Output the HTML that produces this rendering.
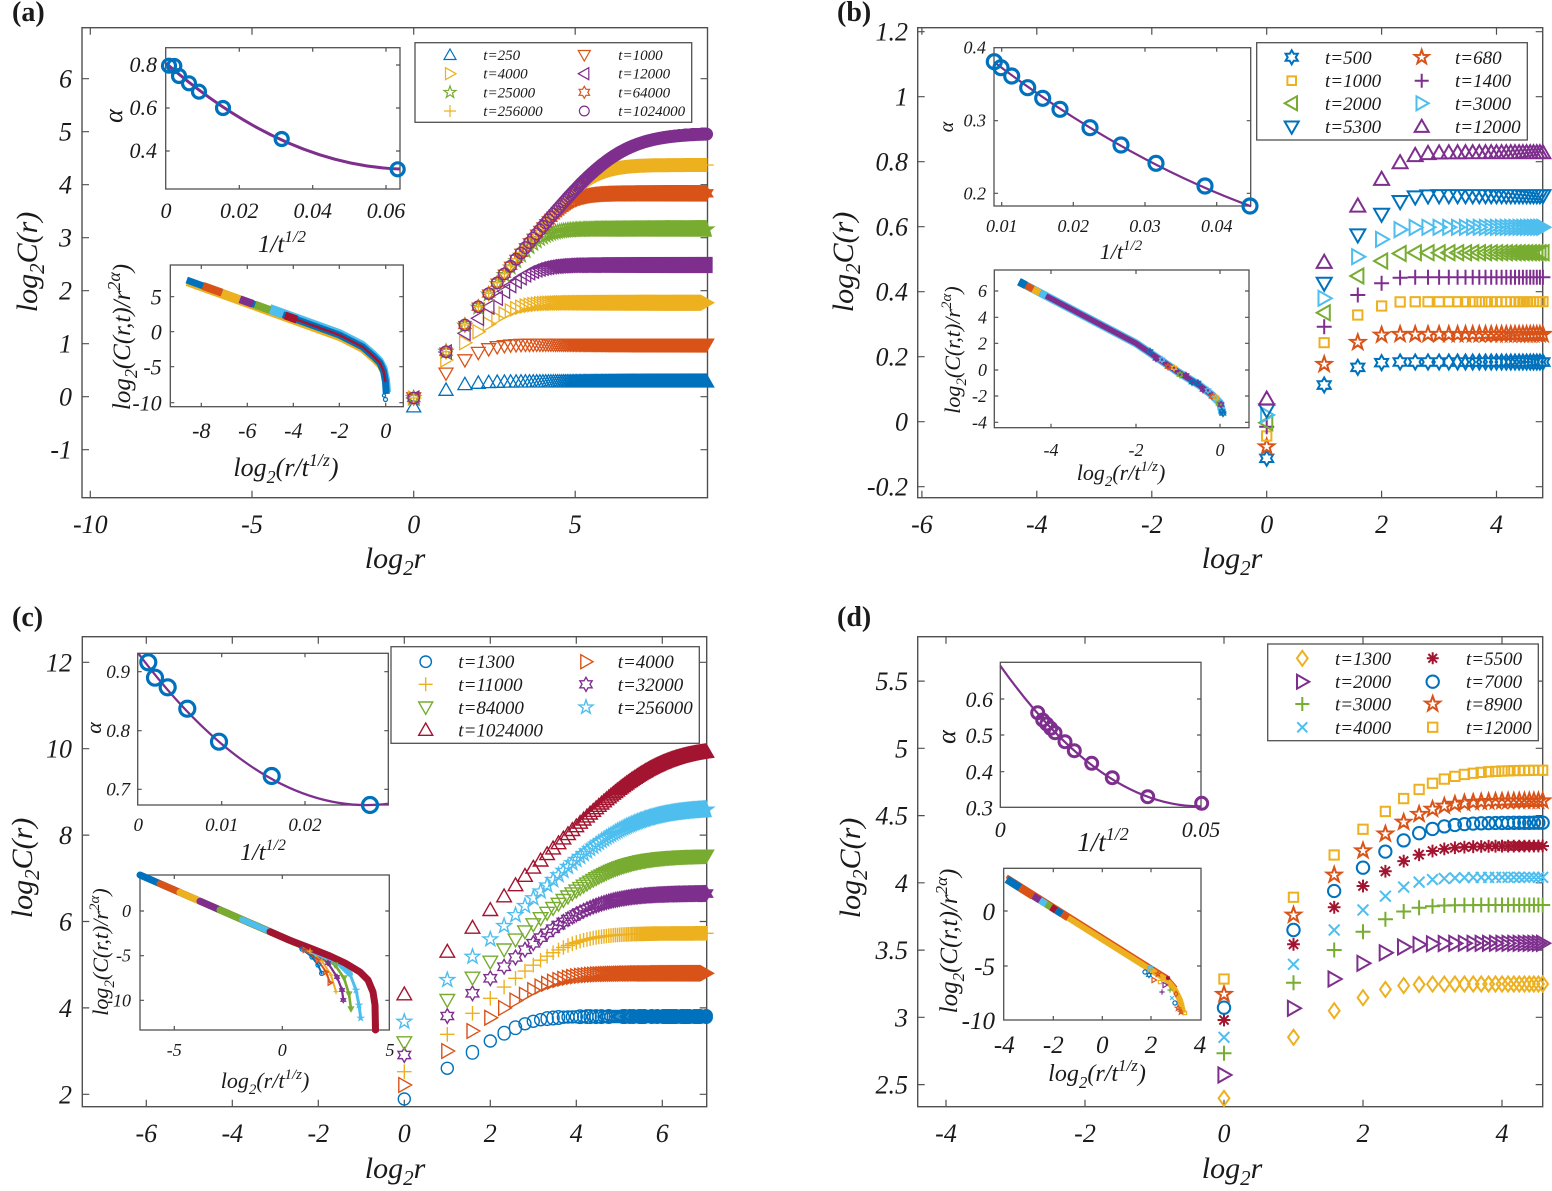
<!DOCTYPE html>
<html><head><meta charset="utf-8"><title>chart</title>
<style>
html,body{margin:0;padding:0;background:#fff;overflow:hidden}
svg{display:block}
text{font-family:"Liberation Serif","DejaVu Serif",serif;font-style:italic;fill:#1a1a1a}
.lb{font-style:normal;font-weight:bold}
.ax{fill:none;stroke:#505050;stroke-width:1.4}
.ix{fill:#fff;stroke:#505050;stroke-width:1.3}
.lg{fill:#fff;stroke:#505050;stroke-width:1.3}
.tk{fill:none;stroke:#505050;stroke-width:1.2}
</style></head><body>
<svg id="s" width="1552" height="1191" viewBox="0 0 1552 1191" xmlns="http://www.w3.org/2000/svg">
<rect x="0" y="0" width="1552" height="1191" fill="#fff"/>

<!-- ================= PANEL A ================= -->
<text class="lb" x="12" y="21" font-size="28">(a)</text>
<rect class="ax" x="82" y="27.7" width="625.5" height="470"/>
<path class="tk" d="M90.3,497.7v-7M252,497.7v-7M413.7,497.7v-7M575.2,497.7v-7M90.3,27.7v7M252,27.7v7M413.7,27.7v7M575.2,27.7v7M82,449.7h7M82,396.7h7M82,343.7h7M82,290.7h7M82,237.7h7M82,184.7h7M82,131.7h7M82,78.7h7M707.5,449.7h-7M707.5,396.7h-7M707.5,343.7h-7M707.5,290.7h-7M707.5,237.7h-7M707.5,184.7h-7M707.5,131.7h-7M707.5,78.7h-7"/>
<g font-size="26" text-anchor="middle"><text x="90.3" y="533">-10</text><text x="252" y="533">-5</text><text x="413.7" y="533">0</text><text x="575.2" y="533">5</text></g>
<g font-size="26" text-anchor="end"><text x="72" y="458.7">-1</text><text x="72" y="405.7">0</text><text x="72" y="352.7">1</text><text x="72" y="299.7">2</text><text x="72" y="246.7">3</text><text x="72" y="193.7">4</text><text x="72" y="140.7">5</text><text x="72" y="87.7">6</text></g>
<text transform="translate(37,262) rotate(-90)" font-size="30" text-anchor="middle">log<tspan dy="7" font-size="21">2</tspan><tspan dy="-7">C(r)</tspan></text>
<text x="395" y="568" font-size="30" text-anchor="middle">log<tspan dy="7" font-size="21">2</tspan><tspan dy="-7">r</tspan></text>

<!-- ================= PANEL B ================= -->
<text class="lb" x="837" y="21" font-size="28">(b)</text>
<rect class="ax" x="917.7" y="27.7" width="625" height="470"/>
<path class="tk" d="M921.9,497.7v-7M1036.8,497.7v-7M1151.8,497.7v-7M1266.7,497.7v-7M1381.6,497.7v-7M1496.5,497.7v-7M921.9,27.7v7M1036.8,27.7v7M1151.8,27.7v7M1266.7,27.7v7M1381.6,27.7v7M1496.5,27.7v7M917.7,486.7h7M917.7,421.7h7M917.7,356.7h7M917.7,291.7h7M917.7,226.7h7M917.7,161.7h7M917.7,96.7h7M917.7,31.7h7M1542.7,486.7h-7M1542.7,421.7h-7M1542.7,356.7h-7M1542.7,291.7h-7M1542.7,226.7h-7M1542.7,161.7h-7M1542.7,96.7h-7M1542.7,31.7h-7"/>
<g font-size="26" text-anchor="middle"><text x="921.9" y="533">-6</text><text x="1036.8" y="533">-4</text><text x="1151.8" y="533">-2</text><text x="1266.7" y="533">0</text><text x="1381.6" y="533">2</text><text x="1496.5" y="533">4</text></g>
<g font-size="26" text-anchor="end"><text x="908" y="495.7">-0.2</text><text x="908" y="430.7">0</text><text x="908" y="365.7">0.2</text><text x="908" y="300.7">0.4</text><text x="908" y="235.7">0.6</text><text x="908" y="170.7">0.8</text><text x="908" y="105.7">1</text><text x="908" y="40.7">1.2</text></g>
<text transform="translate(853,262) rotate(-90)" font-size="30" text-anchor="middle">log<tspan dy="7" font-size="21">2</tspan><tspan dy="-7">C(r)</tspan></text>
<text x="1232" y="568" font-size="30" text-anchor="middle">log<tspan dy="7" font-size="21">2</tspan><tspan dy="-7">r</tspan></text>

<!-- ================= PANEL C ================= -->
<text class="lb" x="12" y="626" font-size="28">(c)</text>
<rect class="ax" x="82.3" y="636.7" width="624.4" height="470"/>
<path class="tk" d="M146.3,1106.7v-7M232.3,1106.7v-7M318.3,1106.7v-7M404.3,1106.7v-7M490.3,1106.7v-7M576.3,1106.7v-7M662.3,1106.7v-7M146.3,636.7v7M232.3,636.7v7M318.3,636.7v7M404.3,636.7v7M490.3,636.7v7M576.3,636.7v7M662.3,636.7v7M82.3,1094.3h7M82.3,1007.9h7M82.3,921.5h7M82.3,835.1h7M82.3,748.7h7M82.3,662.3h7M706.7,1094.3h-7M706.7,1007.9h-7M706.7,921.5h-7M706.7,835.1h-7M706.7,748.7h-7M706.7,662.3h-7"/>
<g font-size="26" text-anchor="middle"><text x="146.3" y="1142">-6</text><text x="232.3" y="1142">-4</text><text x="318.3" y="1142">-2</text><text x="404.3" y="1142">0</text><text x="490.3" y="1142">2</text><text x="576.3" y="1142">4</text><text x="662.3" y="1142">6</text></g>
<g font-size="26" text-anchor="end"><text x="72" y="1103.3">2</text><text x="72" y="1016.9">4</text><text x="72" y="930.5">6</text><text x="72" y="844.1">8</text><text x="72" y="757.7">10</text><text x="72" y="671.3">12</text></g>
<text transform="translate(32,868) rotate(-90)" font-size="30" text-anchor="middle">log<tspan dy="7" font-size="21">2</tspan><tspan dy="-7">C(r)</tspan></text>
<text x="395" y="1178" font-size="30" text-anchor="middle">log<tspan dy="7" font-size="21">2</tspan><tspan dy="-7">r</tspan></text>

<!-- ================= PANEL D ================= -->
<text class="lb" x="837" y="626" font-size="28">(d)</text>
<rect class="ax" x="917.7" y="636.7" width="625" height="470"/>
<path class="tk" d="M946,1106.7v-7M1085,1106.7v-7M1224,1106.7v-7M1363,1106.7v-7M1502,1106.7v-7M946,636.7v7M1085,636.7v7M1224,636.7v7M1363,636.7v7M1502,636.7v7M917.7,1084.6h7M917.7,1017.3h7M917.7,950.1h7M917.7,882.8h7M917.7,815.6h7M917.7,748.3h7M917.7,681.1h7M1542.7,1084.6h-7M1542.7,1017.3h-7M1542.7,950.1h-7M1542.7,882.8h-7M1542.7,815.6h-7M1542.7,748.3h-7M1542.7,681.1h-7"/>
<g font-size="26" text-anchor="middle"><text x="946" y="1142">-4</text><text x="1085" y="1142">-2</text><text x="1224" y="1142">0</text><text x="1363" y="1142">2</text><text x="1502" y="1142">4</text></g>
<g font-size="26" text-anchor="end"><text x="908" y="1093.6">2.5</text><text x="908" y="1026.3">3</text><text x="908" y="959.1">3.5</text><text x="908" y="891.8">4</text><text x="908" y="824.6">4.5</text><text x="908" y="757.3">5</text><text x="908" y="690.1">5.5</text></g>
<text transform="translate(860,868) rotate(-90)" font-size="30" text-anchor="middle">log<tspan dy="7" font-size="21">2</tspan><tspan dy="-7">C(r)</tspan></text>
<text x="1232" y="1178" font-size="30" text-anchor="middle">log<tspan dy="7" font-size="21">2</tspan><tspan dy="-7">r</tspan></text>

<!-- main data (generated) -->
<g id="da"></g><g id="db"></g><g id="dc"></g><g id="dd"></g>

<!-- ================= INSET A1 ================= -->
<rect class="ix" x="165.7" y="47.7" width="234.3" height="141.3"/>
<path class="tk" d="M239.3,189v-4M312.7,189v-4M386,189v-4M239.3,47.7v4M312.7,47.7v4M386,47.7v4M165.7,151h4M165.7,108h4M165.7,65h4M400,151h-4M400,108h-4M400,65h-4"/>
<path d="M166,63.3Q283,165 400,169" fill="none" stroke="#7E2F8E" stroke-width="3"/>
<g fill="none" stroke="#0072BD" stroke-width="3.2"><circle cx="169" cy="65.7" r="6.5"/><circle cx="174.3" cy="66" r="6.5"/><circle cx="179" cy="76" r="6.5"/><circle cx="189" cy="83.3" r="6.5"/><circle cx="199" cy="91.7" r="6.5"/><circle cx="223" cy="108" r="6.5"/><circle cx="281.7" cy="139" r="6.5"/><circle cx="397.7" cy="169.3" r="6.5"/></g>
<g font-size="22" text-anchor="middle"><text x="166" y="218">0</text><text x="239.3" y="218">0.02</text><text x="312.7" y="218">0.04</text><text x="386" y="218">0.06</text></g>
<g font-size="22" text-anchor="end"><text x="157" y="158">0.4</text><text x="157" y="115">0.6</text><text x="157" y="72">0.8</text></g>
<text x="282" y="252" font-size="25" text-anchor="middle">1/t<tspan dy="-10" font-size="17">1/2</tspan></text>
<text transform="translate(122,116) rotate(-90)" font-size="26" text-anchor="middle">α</text>

<!-- ================= INSET A2 ================= -->
<rect class="ix" x="170.3" y="265" width="233" height="141.7"/>
<path class="tk" d="M201.3,406.7v-4M247.3,406.7v-4M293.3,406.7v-4M339.3,406.7v-4M385.7,406.7v-4M201.3,265v4M247.3,265v4M293.3,265v4M339.3,265v4M385.7,265v4M170.3,296.7h4M170.3,331.7h4M170.3,366.7h4M170.3,402.7h4M403.3,296.7h-4M403.3,331.7h-4M403.3,366.7h-4M403.3,402.7h-4"/>
<g fill="none" stroke-linejoin="round">
<polyline points="186.7,283 339.3,338 362.3,349.7 373.8,359.7 380,366 383,372" stroke="#EDB120" stroke-width="6"/>
<polyline points="270,307.5 339.3,332.5 362.3,344.2 373.8,354.2 380,360.5 384,368 386.5,380 387.5,392" stroke="#4DBEEE" stroke-width="7"/>
<polyline points="186.7,280 339.3,335 362.3,346.7 373.8,356.7 380,363 383.5,371 385.5,382 386.3,394" stroke="#0072BD" stroke-width="7"/>
<polyline points="285,315.4 339.3,335 362.3,346.7 373.8,356.7 380,363 383.5,371 385.5,382" stroke="#A2142F" stroke-width="2.5"/>
<line x1="203" y1="285.9" x2="222" y2="292.7" stroke="#D95319" stroke-width="8"/>
<line x1="222" y1="292.7" x2="240" y2="299.2" stroke="#EDB120" stroke-width="8"/>
<line x1="240" y1="299.2" x2="253" y2="303.9" stroke="#7E2F8E" stroke-width="8"/>
<line x1="255" y1="304.6" x2="270" y2="310" stroke="#77AC30" stroke-width="8"/>
<line x1="270" y1="310" x2="283" y2="314.7" stroke="#4DBEEE" stroke-width="8"/>
<line x1="285" y1="315.4" x2="297" y2="319.7" stroke="#A2142F" stroke-width="8"/>
<circle cx="385.5" cy="399.5" r="2" stroke="#0072BD" stroke-width="1.2"/>
<circle cx="384" cy="395.5" r="1.6" stroke="#0072BD" stroke-width="1.2"/>
</g>
<g font-size="22" text-anchor="middle"><text x="201.3" y="438">-8</text><text x="247.3" y="438">-6</text><text x="293.3" y="438">-4</text><text x="339.3" y="438">-2</text><text x="385.7" y="438">0</text></g>
<g font-size="22" text-anchor="end"><text x="161.7" y="304.7">5</text><text x="161.7" y="339.7">0</text><text x="161.7" y="374.7">-5</text><text x="161.7" y="410.7">-10</text></g>
<text x="286" y="476" font-size="26" text-anchor="middle">log<tspan dy="7" font-size="18">2</tspan><tspan dy="-7">(r/t</tspan><tspan dy="-10" font-size="18">1/z</tspan><tspan dy="10">)</tspan></text>
<text transform="translate(130,337) rotate(-90)" font-size="25" text-anchor="middle">log<tspan dy="7" font-size="18">2</tspan><tspan dy="-7">(C(r,t)/r</tspan><tspan dy="-10" font-size="18">2α</tspan><tspan dy="10">)</tspan></text>

<!-- ================= INSET B1 ================= -->
<rect class="ix" x="994" y="47.7" width="256.7" height="158.3"/>
<path class="tk" d="M1001.7,206v-4M1073.3,206v-4M1145,206v-4M1216.7,206v-4M1001.7,47.7v4M1073.3,47.7v4M1145,47.7v4M1216.7,47.7v4M994,120.7h4M994,193.3h4M1250.7,120.7h-4M1250.7,193.3h-4"/>
<path d="M994.3,62.3Q1122.7,159.3 1251,206.3" fill="none" stroke="#7E2F8E" stroke-width="2.2"/>
<g fill="none" stroke="#0072BD" stroke-width="3.2"><circle cx="994.3" cy="61.7" r="7"/><circle cx="1001" cy="67.7" r="7"/><circle cx="1011.7" cy="76" r="7"/><circle cx="1027.7" cy="87.7" r="7"/><circle cx="1042.7" cy="98.3" r="7"/><circle cx="1060" cy="109.3" r="7"/><circle cx="1090" cy="127.7" r="7"/><circle cx="1121" cy="145" r="7"/><circle cx="1156" cy="163.3" r="7"/><circle cx="1205" cy="186" r="7"/><circle cx="1250" cy="206" r="7"/></g>
<g font-size="18" text-anchor="middle"><text x="1001.7" y="232">0.01</text><text x="1073.3" y="232">0.02</text><text x="1145" y="232">0.03</text><text x="1216.7" y="232">0.04</text></g>
<g font-size="18" text-anchor="end"><text x="986" y="53.7">0.4</text><text x="986" y="126.7">0.3</text><text x="986" y="199.3">0.2</text></g>
<text x="1121" y="259" font-size="22" text-anchor="middle">1/t<tspan dy="-9" font-size="15">1/2</tspan></text>
<text transform="translate(953,127) rotate(-90)" font-size="20" text-anchor="middle">α</text>

<!-- ================= INSET B2 ================= -->
<rect class="ix" x="994.3" y="270" width="254.7" height="157.7"/>
<path class="tk" d="M1051,427.7v-4M1136,427.7v-4M1220,427.7v-4M1051,270v4M1136,270v4M1220,270v4M994.3,291h4M994.3,317.3h4M994.3,343.3h4M994.3,370h4M994.3,396h4M994.3,422.3h4M1249,291h-4M1249,317.3h-4M1249,343.3h-4M1249,370h-4M1249,396h-4M1249,422.3h-4"/>
<g fill="none" stroke-linejoin="round">
<polyline points="1019,281.7 1136,343.3 1177.5,371.7 1199,385 1212,395 1220,403 1223,415" stroke="#4DBEEE" stroke-width="8"/>
<polyline points="1019,281.7 1136,343.3 1177.5,371.7 1199,385 1212,395" stroke="#7E2F8E" stroke-width="5.5"/>
<line x1="1019" y1="281.7" x2="1026" y2="285.4" stroke="#0072BD" stroke-width="8"/>
<line x1="1026" y1="285.4" x2="1033" y2="289.1" stroke="#D95319" stroke-width="7"/>
<line x1="1033" y1="289.1" x2="1040" y2="292.8" stroke="#EDB120" stroke-width="7"/>
<line x1="1040" y1="292.8" x2="1046" y2="295.9" stroke="#4DBEEE" stroke-width="7"/>
</g>
<g id="ib2"></g>
<g font-size="18" text-anchor="middle"><text x="1051" y="456">-4</text><text x="1136" y="456">-2</text><text x="1220" y="456">0</text></g>
<g font-size="18" text-anchor="end"><text x="987" y="297">6</text><text x="987" y="323.3">4</text><text x="987" y="349.3">2</text><text x="987" y="376">0</text><text x="987" y="402">-2</text><text x="987" y="428.3">-4</text></g>
<text x="1121" y="480" font-size="22" text-anchor="middle">log<tspan dy="6" font-size="15">2</tspan><tspan dy="-6">(r/t</tspan><tspan dy="-9" font-size="15">1/z</tspan><tspan dy="9">)</tspan></text>
<text transform="translate(960,350) rotate(-90)" font-size="22" text-anchor="middle">log<tspan dy="6" font-size="15">2</tspan><tspan dy="-6">(C(r,t)/r</tspan><tspan dy="-9" font-size="15">2α</tspan><tspan dy="9">)</tspan></text>

<!-- ================= INSET C1 ================= -->
<rect class="ix" x="137.7" y="653.3" width="250.6" height="151.7"/>
<path class="tk" d="M221.7,805v-4M305,805v-4M221.7,653.3v4M305,653.3v4M137.7,671.7h4M137.7,730.7h4M137.7,789.3h4M388.3,671.7h-4M388.3,730.7h-4M388.3,789.3h-4"/>
<path d="M138.3,653.3Q263.3,819.7 388.3,803.7" fill="none" stroke="#7E2F8E" stroke-width="2.2"/>
<g fill="none" stroke="#0072BD" stroke-width="3.2"><circle cx="148.3" cy="662.3" r="7.5"/><circle cx="155" cy="677.7" r="7.5"/><circle cx="167.7" cy="687.3" r="7.5"/><circle cx="187.3" cy="708.7" r="7.5"/><circle cx="219" cy="741.7" r="7.5"/><circle cx="271.7" cy="776" r="7.5"/><circle cx="370" cy="805" r="7.5"/></g>
<g font-size="19" text-anchor="middle"><text x="138.3" y="831">0</text><text x="221.7" y="831">0.01</text><text x="305" y="831">0.02</text></g>
<g font-size="19" text-anchor="end"><text x="130" y="678">0.9</text><text x="130" y="737">0.8</text><text x="130" y="795.6">0.7</text></g>
<text x="263" y="860" font-size="24" text-anchor="middle">1/t<tspan dy="-10" font-size="16">1/2</tspan></text>
<text transform="translate(101,728) rotate(-90)" font-size="22" text-anchor="middle">α</text>

<!-- ================= INSET C2 ================= -->
<rect class="ix" x="140" y="875" width="249.3" height="155"/>
<path class="tk" d="M174.3,1030v-4M282.3,1030v-4M174.3,875v4M282.3,875v4M140,911h4M140,955.7h4M140,1000.3h4M389.3,911h-4M389.3,955.7h-4M389.3,1000.3h-4"/>
<g fill="none" stroke-linejoin="round" stroke-linecap="round">
<polyline points="140,875 290,940.4" stroke="#0072BD" stroke-width="7"/>
<polyline points="290,940.4 302,949 312,957 318,965 321.7,973.3" stroke="#0072BD" stroke-width="2"/>
<polyline points="160,883.7 290,940.4" stroke="#D95319" stroke-width="7"/>
<polyline points="290,940.4 305,950 318,960 326,972 330,982.7" stroke="#D95319" stroke-width="2"/>
<polyline points="180,892.4 292,941.3" stroke="#EDB120" stroke-width="7"/>
<polyline points="292,941.3 310,951 322,961 331,975 336,991.7" stroke="#EDB120" stroke-width="2"/>
<polyline points="200,901.2 295,942.6" stroke="#7E2F8E" stroke-width="7"/>
<polyline points="295,942.6 315,953 328,963 337,977 342,990 343.3,1000" stroke="#7E2F8E" stroke-width="2.2"/>
<polyline points="220,909.9 298,943.9" stroke="#77AC30" stroke-width="7"/>
<polyline points="298,943.9 320,955 335,965 344,978 349,994 351,1009" stroke="#77AC30" stroke-width="2.6"/>
<polyline points="242,919.5 300,944.8 320,954 340,964 350,974" stroke="#4DBEEE" stroke-width="6"/>
<polyline points="350,974 356,990 359,1005 360.7,1018" stroke="#4DBEEE" stroke-width="3"/>
<polyline points="270,931.7 290,940.4 310,948 330,956 345,963 360,972 368,980 373,992 375,1005 375.5,1030" stroke="#A2142F" stroke-width="7"/>
</g>
<g id="ic2"></g>
<g font-size="18" text-anchor="middle"><text x="174.3" y="1056">-5</text><text x="282.3" y="1056">0</text><text x="390" y="1056">5</text></g>
<g font-size="18" text-anchor="end"><text x="131" y="917">0</text><text x="131" y="961.7">-5</text><text x="131" y="1006.3">-10</text></g>
<text x="265" y="1088" font-size="22" text-anchor="middle">log<tspan dy="6" font-size="15">2</tspan><tspan dy="-6">(r/t</tspan><tspan dy="-9" font-size="15">1/z</tspan><tspan dy="9">)</tspan></text>
<text transform="translate(108,952) rotate(-90)" font-size="22" text-anchor="middle">log<tspan dy="6" font-size="15">2</tspan><tspan dy="-6">(C(r,t)/r</tspan><tspan dy="-9" font-size="15">2α</tspan><tspan dy="9">)</tspan></text>

<!-- ================= INSET D1 ================= -->
<rect class="ix" x="1000.3" y="662.3" width="200.7" height="145"/>
<path class="tk" d="M1000.3,699h4M1000.3,735h4M1000.3,771.7h4M1201,699h-4M1201,735h-4M1201,771.7h-4"/>
<path d="M1000.3,665.7Q1100.7,807.3 1201,806.3" fill="none" stroke="#7E2F8E" stroke-width="2.2"/>
<g fill="none" stroke="#7E2F8E" stroke-width="3"><circle cx="1037.7" cy="712.7" r="6"/><circle cx="1042.7" cy="720" r="6"/><circle cx="1046.7" cy="724" r="6"/><circle cx="1050.7" cy="728.3" r="6"/><circle cx="1055" cy="732.7" r="6"/><circle cx="1065" cy="741.7" r="6"/><circle cx="1074.3" cy="750.7" r="6"/><circle cx="1091.7" cy="763.3" r="6"/><circle cx="1112.3" cy="777.7" r="6"/><circle cx="1147.7" cy="796.7" r="6"/><circle cx="1201.7" cy="803.3" r="6"/></g>
<g font-size="22" text-anchor="middle"><text x="1000.3" y="837">0</text><text x="1201" y="837">0.05</text></g>
<g font-size="22" text-anchor="end"><text x="993" y="707">0.6</text><text x="993" y="743">0.5</text><text x="993" y="779.7">0.4</text><text x="993" y="815.3">0.3</text></g>
<text x="1103" y="851" font-size="27" text-anchor="middle">1/t<tspan dy="-11" font-size="18">1/2</tspan></text>
<text transform="translate(955,737) rotate(-90)" font-size="26" text-anchor="middle">α</text>

<!-- ================= INSET D2 ================= -->
<rect class="ix" x="1003.7" y="868.3" width="197.3" height="151.7"/>
<path class="tk" d="M1053.3,1020v-4M1102.3,1020v-4M1151,1020v-4M1053.3,868.3v4M1102.3,868.3v4M1151,868.3v4M1003.7,911h4M1003.7,966h4M1201,911h-4M1201,966h-4"/>
<g fill="none" stroke-linejoin="round">
<polyline points="1006.7,876.3 1166.7,977 1176,988" stroke="#D95319" stroke-width="4"/>
<polyline points="1006.7,879.3 1166.7,980 1175,990 1180,1000 1183.3,1013" stroke="#EDB120" stroke-width="6"/>
<line x1="1006.7" y1="879.3" x2="1020" y2="887.7" stroke="#0072BD" stroke-width="8"/>
<line x1="1020" y1="887.7" x2="1033" y2="895.9" stroke="#D95319" stroke-width="8"/>
<line x1="1033" y1="895.9" x2="1040" y2="900.3" stroke="#7E2F8E" stroke-width="7"/>
<line x1="1040" y1="900.3" x2="1046" y2="904.1" stroke="#4DBEEE" stroke-width="7"/>
<line x1="1046" y1="904.1" x2="1051" y2="907.2" stroke="#77AC30" stroke-width="7"/>
<line x1="1051" y1="907.2" x2="1056" y2="910.4" stroke="#A2142F" stroke-width="7"/>
<line x1="1056" y1="910.4" x2="1062" y2="914.1" stroke="#0072BD" stroke-width="7"/>
<line x1="1062" y1="914.1" x2="1068" y2="917.9" stroke="#D95319" stroke-width="7"/>
</g>
<g id="id2"></g>
<g font-size="25" text-anchor="middle"><text x="1004.3" y="1053">-4</text><text x="1053.3" y="1053">-2</text><text x="1102.3" y="1053">0</text><text x="1151" y="1053">2</text><text x="1200" y="1053">4</text></g>
<g font-size="25" text-anchor="end"><text x="995" y="920">0</text><text x="995" y="975">-5</text><text x="995" y="1029">-10</text></g>
<text x="1097" y="1081" font-size="24" text-anchor="middle">log<tspan dy="7" font-size="17">2</tspan><tspan dy="-7">(r/t</tspan><tspan dy="-10" font-size="17">1/z</tspan><tspan dy="10">)</tspan></text>
<text transform="translate(957,941) rotate(-90)" font-size="25" text-anchor="middle">log<tspan dy="7" font-size="17">2</tspan><tspan dy="-7">(C(r,t)/r</tspan><tspan dy="-10" font-size="17">2α</tspan><tspan dy="10">)</tspan></text>

<!-- ================= LEGENDS ================= -->
<rect class="lg" x="415" y="42.7" width="276.7" height="79.6"/>
<g font-size="15"><text x="483.3" y="60">t=250</text><text x="618.3" y="60">t=1000</text><text x="483.3" y="78.7">t=4000</text><text x="618.3" y="78.7">t=12000</text><text x="483.3" y="97.3">t=25000</text><text x="618.3" y="97.3">t=64000</text><text x="483.3" y="116">t=256000</text><text x="618.3" y="116">t=1024000</text></g>

<rect class="lg" x="1256.7" y="42.7" width="270.6" height="97.3"/>
<g font-size="19"><text x="1325" y="63.8">t=500</text><text x="1455" y="63.8">t=680</text><text x="1325" y="87.2">t=1000</text><text x="1455" y="87.2">t=1400</text><text x="1325" y="109.8">t=2000</text><text x="1455" y="109.8">t=3000</text><text x="1325" y="133.2">t=5300</text><text x="1455" y="133.2">t=12000</text></g>

<rect class="lg" x="391" y="646.7" width="308.3" height="96.6"/>
<g font-size="19"><text x="458.3" y="668.2">t=1300</text><text x="617.7" y="668.2">t=4000</text><text x="458.3" y="690.8">t=11000</text><text x="617.7" y="690.8">t=32000</text><text x="458.3" y="713.8">t=84000</text><text x="617.7" y="713.8">t=256000</text><text x="458.3" y="736.5">t=1024000</text></g>

<rect class="lg" x="1267.7" y="644" width="270.6" height="96.7"/>
<g font-size="19"><text x="1335" y="664.8">t=1300</text><text x="1466" y="664.8">t=5500</text><text x="1335" y="688.2">t=2000</text><text x="1466" y="688.2">t=7000</text><text x="1335" y="710.5">t=3000</text><text x="1466" y="710.5">t=8900</text><text x="1335" y="733.8">t=4000</text><text x="1466" y="733.8">t=12000</text></g>
<g id="leg"></g>
</svg>
<script>
(function(){
var NS='http://www.w3.org/2000/svg';
var B='#0072BD',O='#D95319',Y='#EDB120',P='#7E2F8E',G='#77AC30',L='#4DBEEE',R='#A2142F';
function f(v){return v.toFixed(1);}
function poly(p){var s='M'+f(p[0][0])+' '+f(p[0][1]);for(var i=1;i<p.length;i++)s+='L'+f(p[i][0])+' '+f(p[i][1]);return s+'Z';}
function star(x,y,n,a,b){var p=[];for(var i=0;i<2*n;i++){var t=-Math.PI/2+i*Math.PI/n,r=(i%2)?b:a;p.push([x+r*Math.cos(t),y+r*Math.sin(t)]);}return poly(p);}
function shp(t,x,y,s){
 var d,r;
 switch(t){
 case 'tu':return poly([[x,y-s],[x+s,y+0.75*s],[x-s,y+0.75*s]]);
 case 'td':return poly([[x,y+s],[x+s,y-0.75*s],[x-s,y-0.75*s]]);
 case 'tr':return poly([[x+s,y],[x-0.75*s,y-s],[x-0.75*s,y+s]]);
 case 'tl':return poly([[x-s,y],[x+0.75*s,y-s],[x+0.75*s,y+s]]);
 case 'p5':return star(x,y,5,s*1.05,s*0.42);
 case 'h6':return star(x,y,6,s,s*0.577);
 case 'pl':return 'M'+f(x-s)+' '+f(y)+'H'+f(x+s)+'M'+f(x)+' '+f(y-s)+'V'+f(y+s);
 case 'x':d=s*0.72;return 'M'+f(x-d)+' '+f(y-d)+'L'+f(x+d)+' '+f(y+d)+'M'+f(x-d)+' '+f(y+d)+'L'+f(x+d)+' '+f(y-d);
 case 'as':return shp('pl',x,y,s*0.85)+shp('x',x,y,s*0.85);
 case 'o':r=s*0.82;return 'M'+f(x+r)+' '+f(y)+'A'+f(r)+' '+f(r)+' 0 1 0 '+f(x-r)+' '+f(y)+'A'+f(r)+' '+f(r)+' 0 1 0 '+f(x+r)+' '+f(y)+'Z';
 case 'sq':d=s*0.62;return poly([[x-d,y-d],[x+d,y-d],[x+d,y+d],[x-d,y+d]]);
 case 'di':return poly([[x,y-s],[x+0.72*s,y],[x,y+s],[x-0.72*s,y]]);
 }
 return '';
}
function add(g,d,c,sw){var e=document.createElementNS(NS,'path');e.setAttribute('d',d);e.setAttribute('fill','none');e.setAttribute('stroke',c);e.setAttribute('stroke-width',sw);g.appendChild(e);}
function mk(a,asym,m,k){
 var D=a[3]-asym,y2p=null;
 if(D>0.5)y2p=asym+k*Math.log(Math.expm1(D/k));
 return function(x,r){
  if(r<=4)return a[r-1];
  if(y2p===null)return asym+(a[3]-asym)*Math.exp(-(x-2)*3);
  var Lx=y2p-m*(x-2),z=(Lx-asym)/k;
  return asym+k*(z>30?z:Math.log1p(Math.exp(z)));
 };
}
function panel(id,X0,SX,rmax,s,sw,ser){
 var g=document.getElementById(id);
 for(var i=0;i<ser.length;i++){
  var q=ser[i],fn=mk(q[2],q[3],q[4],q[5]),d='';
  for(var r=1;r<=rmax;r++){var x=Math.log(r)/Math.LN2;d+=shp(q[0],X0+SX*x,fn(x,r),s);}
  add(g,d,q[1],sw);
 }
}
panel('da',413.7,32.3,538,7,1.3,[
 ['tu',B,[406.7,390,384.3,383],381.7,8,3],
 ['td',O,[398,373.3,360,352.7],344.3,17.6,6],
 ['tr',Y,[398,360,342.7,331.7],302.7,26,10],
 ['tl',P,[398,352,333.3,318.3],265,36,14],
 ['p5',G,[398,351.7,325.5,307.5],229.3,41,14],
 ['h6',O,[398,351.7,325,306.7],193.3,41,15],
 ['pl',Y,[398,351.7,325,306.7],165,41,20],
 ['o',P,[398,351.7,325,306.7],133.3,41,32]
]);
panel('db',1266.7,57.46,28,7.5,2,[
 ['h6',B,[458.3,385,367.3,362.7],362,11,1],
 ['p5',O,[446.7,364.3,342.3,335],334.3,17,1],
 ['sq',Y,[436,342.7,315,306],301.7,22,1.6],
 ['pl',P,[426.7,326.7,295,283.3],277.3,28,2.2],
 ['tl',G,[422.7,312.7,276,261],252.7,36,3],
 ['tr',L,[415,298.3,256.7,239.3],227.3,42,4.5],
 ['td',B,[410,283.3,235,214.3],195.7,50,7],
 ['tu',P,[399,262.3,206,179.3],152.7,64,10]
]);
panel('dc',404.3,43,130,7.3,1.4,[
 ['o',B,[1099,1068.3,1052.3,1041],1016.5,27,9],
 ['tr',O,[1085,1051,1031,1017.7],973.3,32,14],
 ['pl',Y,[1071.7,1034.3,1013.3,998.3],933.3,36,18],
 ['h6',P,[1055,1016,993.3,978.3],893.3,37,22],
 ['td',G,[1042.3,1000,977.7,961.7],855,38.5,24],
 ['p5',L,[1021.7,980,956.7,939.3],808,42,28],
 ['tu',R,[994.3,951.7,927.7,910],748,42.6,27]
]);
panel('dd',1224,69.5,24,7.5,2,[
 ['di',Y,[1098.3,1037.3,1010.7,997.7],984,31,5],
 ['tr',P,[1075,1008.3,979,963.3],943.3,38,7],
 ['pl',G,[1053.3,982.7,950,931.7],905,44,9],
 ['x',L,[1037.3,964.3,930,910],877.3,48,11],
 ['as',R,[1020,944.3,907.3,886],846,51,14],
 ['o',B,[1007.7,930,891,867.7],822.7,56,16],
 ['p5',O,[994.3,915,875,850.7],800.7,58,18],
 ['sq',Y,[979,897.3,855,829.3],770,62,22]
]);
function list(id,arr,s,sw){var g=document.getElementById(id);for(var i=0;i<arr.length;i++){var a=arr[i];add(g,shp(a[2],a[0],a[1],a[4]||s),a[3],a[5]||sw);}}
var bp=[[1150,352.9],[1156,357],[1162,361.1],[1168,365.2],[1174,369.3],[1180,373.2],[1186,376.9],[1192,380.7],[1198,384.4],[1203,388.1],[1208,391.9],[1212,395],[1216,399],[1219,402],[1221,406],[1222,410],[1223,415]];
var bc=[B,P,L,O,Y,G,P,B],arr=[];
for(var i=0;i<bp.length;i++)arr.push([bp[i][0],bp[i][1]+((i%2)?1.5:-1.5),'h6',bc[i%bc.length]]);
list('ib2',arr,3,1.3);
list('ic2',[
 [302,949,'o',B],[312,957,'o',B],[318,965,'o',B],[321.7,973.3,'o',B],
 [305,950,'tr',O],[318,960,'tr',O],[326,972,'tr',O],[330,982.7,'tr',O],
 [310,951,'pl',Y],[322,961,'pl',Y],[331,975,'pl',Y],[336,991.7,'pl',Y],
 [328,963,'h6',P],[337,977,'h6',P],[342,990,'h6',P],[343.3,1000,'h6',P],
 [335,965,'td',G],[344,978,'td',G],[349,994,'td',G],[351,1009,'td',G],
 [356,990,'p5',L],[359,1005,'p5',L],[360.7,1018,'p5',L],
 [375.5,1022,'tu',R],[375.5,1029,'tu',R]
],2.6,1.2);
list('id2',[
 [1150,968,'h6',L],[1149,975,'h6',B],[1158,974,'p5',O],[1160,982,'sq',Y],[1165,985,'tr',P],[1162,992,'pl',P],
 [1170,990,'pl',G],[1172,998,'x',L],[1175,1003,'o',B],[1178,1008,'p5',O],[1181,1012,'p5',O],[1185,1013,'sq',Y],
 [1168,978,'as',R],[1176,994,'di',O],[1182,1005,'sq',Y],[1154,980,'tr',O],[1145,972,'o',B]
],2.6,1.2);
var lg=[
 [450,55,'tu',B,6,1.2],[584.3,55,'td',O,6,1.2],[450,73.7,'tr',Y,6,1.2],[584.3,73.7,'tl',P,6,1.2],
 [450,92.3,'p5',G,6,1.2],[584.3,92.3,'h6',O,6,1.2],[450,111,'pl',Y,6,1.2],[584.3,111,'o',P,6,1.2],
 [1291.7,57.3,'h6',B,7,2],[1421.7,57.3,'p5',O,7,2],[1291.7,80.7,'sq',Y,7,2],[1421.7,80.7,'pl',P,7,2],
 [1291.7,103.3,'tl',G,7,2],[1421.7,103.3,'tr',L,7,2],[1291.7,126.7,'td',B,7,2],[1421.7,126.7,'tu',P,7,2],
 [425.7,661.7,'o',B,7,1.4],[586,661.7,'tr',O,7,1.4],[425.7,684.3,'pl',Y,7,1.4],[586,684.3,'h6',P,7,1.4],
 [425.7,707.3,'td',G,7,1.4],[586,707.3,'p5',L,7,1.4],[425.7,730,'tu',R,7,1.4],
 [1302.3,658.3,'di',Y,7.5,2],[1432.7,658.3,'as',R,7,2],[1302.3,681.7,'tr',P,7,2],[1432.7,681.7,'o',B,7.5,2],
 [1302.3,704,'pl',G,7,2],[1432.7,704,'p5',O,7.5,2],[1302.3,727.3,'x',L,7,2],[1432.7,727.3,'sq',Y,7.5,2]
];
list('leg',lg,7,1.5);
})();
</script>
</body></html>
